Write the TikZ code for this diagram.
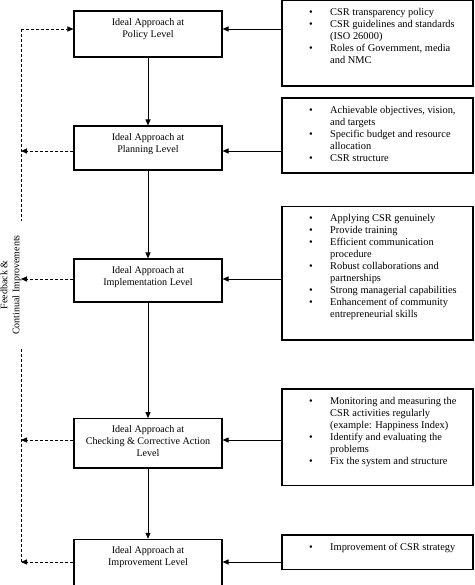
\documentclass[tikz,border=0pt]{standalone}
\usepackage{fontspec}
\setmainfont{Liberation Serif}
\usetikzlibrary{arrows.meta}
\begin{document}
\begin{tikzpicture}[x=1pt,y=-1pt,
  box/.style={draw, line width=1.1pt, inner sep=0pt},
  lbox/.style={box, minimum width=148pt},
  rbox/.style={box, minimum width=191pt},
  ltext/.style={anchor=north, inner sep=0pt, align=center, font=\fontsize{10.1}{12}\selectfont},
  rtext/.style={anchor=north west, inner sep=0pt, font=\fontsize{10.4}{12}\selectfont},
  arr/.style={line width=0.95pt, -{Triangle[length=6pt,width=5pt]}},
  dline/.style={line width=0.95pt, dash pattern=on 3pt off 2pt},
  darr/.style={arr, dash pattern=on 3pt off 2pt},
]
\path[use as bounding box, clip] (0,0) rectangle (474,585);

% left boxes
\node[lbox, minimum height=46pt] (b1) at (148,34) {};
\node[lbox, minimum height=44pt] (b2) at (148,148) {};
\node[lbox, minimum height=43pt] (b3) at (148,280.5) {};
\node[lbox, minimum height=49.3pt] (b4) at (148,443.35) {};
\node[lbox, minimum height=52.7pt] (b5) at (148,565.7) {};

\node[ltext] (l1) at ([yshift=-6.2pt]b1.north) {\strut Ideal Approach at\\Policy Level};
\node[ltext] (l2) at ([yshift=-6.2pt]b2.north) {\strut Ideal Approach at\\Planning Level};
\node[ltext] (l3) at ([yshift=-6.2pt]b3.north) {\strut Ideal Approach at\\Implementation Level};
\node[ltext] (l4) at ([yshift=-6.2pt]b4.north) {\strut Ideal Approach at\\Checking \& Corrective Action\\Level};
\node[ltext] (l5) at ([yshift=-6.2pt]b5.north) {\strut Ideal Approach at\\Improvement Level};

% right boxes
\node[rbox, minimum height=85.5pt] (r1) at (377.5,43.25) {};
\node[rbox, minimum height=75pt] (r2) at (377.5,135.5) {};
\node[rbox, minimum height=133.3pt] (r3) at (377.5,273.35) {};
\node[rbox, minimum height=96.7pt] (r4) at (377.5,437.35) {};
\node[rbox, minimum height=34.7pt] (r5) at (377.5,552.35) {};

\node[rtext] (t1) at (309,7) {\begin{tabular}{@{}p{21pt}@{}l@{}}
\textbullet & CSR transparency policy\\
\textbullet & CSR guidelines and standards\\
 & (ISO 26000)\\
\textbullet & Roles of Government, media\\
 & and NMC
\end{tabular}};
\node[rtext] (t2) at (309,104.5) {\begin{tabular}{@{}p{21pt}@{}l@{}}
\textbullet & Achievable objectives, vision,\\
 & and targets\\
\textbullet & Specific budget and resource\\
 & allocation\\
\textbullet & CSR structure
\end{tabular}};
\node[rtext] (t3) at (309,213.2) {\begin{tabular}{@{}p{21pt}@{}l@{}}
\textbullet & Applying CSR genuinely\\
\textbullet & Provide training\\
\textbullet & Efficient communication\\
 & procedure\\
\textbullet & Robust collaborations and\\
 & partnerships\\
\textbullet & Strong managerial capabilities\\
\textbullet & Enhancement of community\\
 & entrepreneurial skills
\end{tabular}};
\node[rtext] (t4) at (309,395.5) {\begin{tabular}{@{}p{21pt}@{}l@{}}
\textbullet & Monitoring and measuring the\\
 & CSR activities regularly\\
 & (example: Happiness Index)\\
\textbullet & Identify and evaluating the\\
 & problems\\
\textbullet & Fix the system and structure
\end{tabular}};
\node[rtext] (t5) at (309,541.5) {\begin{tabular}{@{}p{21pt}@{}l@{}}
\textbullet & Improvement of CSR strategy
\end{tabular}};

% vertical arrows
\draw[arr] (b1) -- (b2);
\draw[arr] (b2) -- (b3);
\draw[arr] (b3) -- (b4);
\draw[arr] (b4) -- (b5);

% horizontal arrows
\draw[arr] (r1.west |- 0,29) -- (b1.east |- 0,29);
\draw[arr] (r2.west |- 0,151) -- (b2.east |- 0,151);
\draw[arr] (r3.west |- 0,279) -- (b3.east |- 0,279);
\draw[arr] (r4.west |- 0,440) -- (b4.east |- 0,440);
\draw[arr] (r5.west |- 0,562) -- (b5.east |- 0,562);

% feedback line
\coordinate (f1) at (21,29);
\coordinate (f2) at (21,151);
\coordinate (f3) at (21,279);
\coordinate (f4) at (21,440);
\coordinate (f5) at (21,562);
\draw[dline] (f1) -- (f5);
\node[fill=white, rotate=90, align=center, inner xsep=14pt, inner ysep=0pt,
      font=\fontsize{10}{12}\selectfont] (fb) at (11,285) {Feedback \&\\Continual Improvements};
\draw[darr] (f1) -- (b1.west |- f1);
\draw[darr] (b2.west |- f2) -- (f2);
\draw[darr] (b3.west |- f3) -- (f3);
\draw[darr] (b4.west |- f4) -- (f4);
\draw[darr] (b5.west |- f5) -- (f5);
\end{tikzpicture}
\end{document}
